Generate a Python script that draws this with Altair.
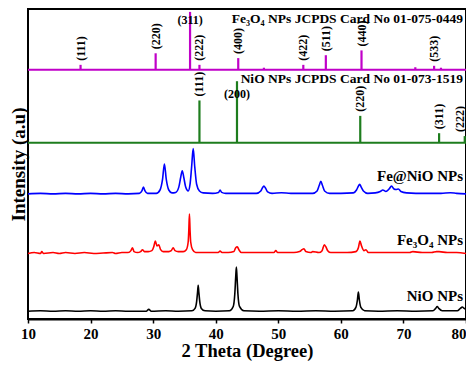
import altair as alt
import pandas as pd

# ---------------- data ----------------
# measured XRD profiles (2theta, stacked intensity in arbitrary units)
NIO_PTS = [(10, 8), (12, 8.5), (14, 8), (16, 8.5), (18, 8), (20, 8.5), (22, 8), (24, 8.5), (26, 8),
           (28.9, 8), (29.3, 10), (29.7, 8), (32, 8.5), (34, 8), (36.2, 8.5), (36.7, 11), (36.95, 18),
           (37.1, 28), (37.2, 35), (37.3, 28), (37.45, 18), (37.7, 11), (38.3, 8.5), (40, 8), (42.2, 8.5),
           (42.8, 13), (43.05, 26), (43.2, 44), (43.3, 54), (43.4, 44), (43.55, 26), (43.8, 13), (44.5, 8.5),
           (47, 8), (50, 8.5), (53, 8), (56, 8.5), (59, 8), (61.9, 8.5), (62.4, 12), (62.65, 20), (62.8, 28),
           (62.95, 20), (63.2, 12), (63.8, 8.5), (66, 8), (69, 8.5), (72, 8), (74.7, 8.5), (75.15, 11),
           (75.4, 13), (75.65, 11), (76.2, 8.5), (78.6, 8.5), (79.1, 11), (79.4, 12.5), (79.7, 11), (80, 10)]

FE3O4_PTS = [(10, 68), (11, 69), (12, 68), (12.2, 70), (12.5, 68), (14, 69), (15, 68), (16, 69), (17.5, 68),
             (19, 69), (20.5, 68), (22, 68.5), (23.5, 69), (24, 68), (25, 69), (26, 69), (26.45, 71), (26.7, 74),
             (26.95, 70), (27.5, 69), (28.0, 70), (28.3, 72), (28.6, 70), (29.2, 70), (29.8, 71), (30.1, 75),
             (30.35, 81), (30.6, 76), (30.9, 77), (31.2, 72), (31.6, 70), (32.5, 70), (32.9, 71), (33.2, 74),
             (33.5, 71), (34.0, 70), (34.8, 70), (35.3, 72), (35.6, 80), (35.7, 92), (35.8, 109), (35.9, 92),
             (36.0, 80), (36.3, 72), (36.8, 69), (38, 69), (39, 69), (40.4, 69), (40.7, 70.5), (41.0, 69),
             (42, 69), (42.9, 70), (43.2, 74), (43.45, 75), (43.7, 72), (44.1, 69), (45, 69), (46.5, 69),
             (48, 69), (49.3, 69), (49.6, 71), (49.9, 69), (51, 69), (52.5, 69), (53.4, 70), (53.8, 72),
             (54.1, 73), (54.4, 70), (55.2, 69), (55.5, 70), (56.5, 69), (57.0, 71), (57.35, 77), (57.6, 75),
             (57.9, 71), (58.4, 69), (59.5, 69), (61, 69), (62.4, 70), (62.8, 74), (63.05, 81), (63.3, 76),
             (63.7, 71), (64.0, 72), (64.4, 69), (65.5, 69), (67, 69), (69, 69), (71, 69), (71.5, 70), (73, 69),
             (74.5, 69), (75.3, 70), (75.7, 70), (77, 69), (78.5, 69), (80, 68)]

FENIO_PTS = [(10, 130), (12, 130.5), (14, 130), (16, 130.5), (18, 130), (20, 130.5), (22, 130), (24, 130.5),
             (26, 130), (27.8, 130.5), (28.2, 133), (28.45, 137), (28.7, 133), (29.1, 130.5), (30.5, 130.5),
             (31.1, 134), (31.5, 145), (31.8, 161), (32.1, 145), (32.5, 134), (33.0, 131), (33.6, 131.5),
             (34.1, 137), (34.4, 147), (34.65, 154), (34.9, 147), (35.2, 137), (35.6, 133), (35.9, 140),
             (36.15, 158), (36.4, 177), (36.65, 158), (36.95, 140), (37.4, 133), (38, 131), (39.5, 130.5),
             (40.45, 131.5), (40.7, 134), (40.95, 131.5), (41.6, 130.5), (44, 130.5), (46.5, 130.5), (47.2, 133),
             (47.45, 136), (47.7, 138), (47.95, 136), (48.3, 132), (49, 130.5), (50.5, 131.2), (52, 130.5),
             (54, 130.5), (55.5, 130.5), (56.2, 133), (56.55, 139), (56.8, 143), (57.05, 139), (57.4, 133),
             (58.2, 130.5), (60, 130.5), (62.0, 131), (62.5, 134), (62.8, 138), (63.0, 140), (63.25, 137),
             (63.6, 133), (64.3, 130.5), (65.5, 131), (66.3, 132.5), (66.7, 134), (67.2, 132.5), (67.7, 135),
             (68.1, 138), (68.5, 135), (68.8, 134.5), (69.2, 135), (69.6, 132.5), (70.5, 131), (72, 130.5),
             (74, 130.5), (76, 130.5), (77.5, 131.2), (78.5, 130.5), (80, 130)]

SERIES = ["NiO NPs", "Fe3O4 NPs", "Fe@NiO NPs"]
SERIES_COLORS = ["#000000", "#ff0000", "#0000ff"]

# JCPDS reference sticks
FE_CARD_BASE = 259
FE_CARD_X = [18.4, 30.4, 35.9, 37.4, 43.6, 54.0, 57.6, 63.3, 74.9, 47.7, 71.9, 76.0]
FE_CARD_TOP = [264, 276, 319, 264, 271, 264, 274, 279, 263, 261, 261.5, 261]
FE_CARD_HKL = ["(111)", "(220)", "(311)", "(222)", "(400)", "(422)", "(511)", "(440)", "(533)", "", "", ""]

NIO_CARD_BASE = 183
NIO_CARD_X = [37.4, 43.4, 63.1, 75.7, 79.8]
NIO_CARD_TOP = [227, 247, 211, 193, 190]
NIO_CARD_HKL = ["(111)", "(200)", "(220)", "(311)", "(222)"]

X_TICKS = [10, 15, 20, 25, 30, 35, 40, 45, 50, 55, 60, 65, 70, 75, 80]

CARDS = ["Fe card", "NiO card"]
CARD_COLORS = ["#c000c8", "#1e7d1e"]

CARD_TITLES = ["Fe\u2083O\u2084 NPs JCPDS Card No 01-075-0449", "NiO NPs JCPDS Card No 01-073-1519"]
SERIES_TITLES = ["Fe@NiO NPs", "Fe\u2083O\u2084 NPs", "NiO NPs"]

# ---------------- tables ----------------
rows = []
for name, pts in zip(SERIES, [NIO_PTS, FE3O4_PTS, FENIO_PTS]):
    for i, (x, y) in enumerate(pts):
        rows.append({"key": name, "x": x, "y": y, "order": i})
curves = pd.DataFrame(rows)

stick_rows = []
for card, base, xs, tops, hkls in [(CARDS[0], FE_CARD_BASE, FE_CARD_X, FE_CARD_TOP, FE_CARD_HKL),
                                    (CARDS[1], NIO_CARD_BASE, NIO_CARD_X, NIO_CARD_TOP, NIO_CARD_HKL)]:
    for x, t, h in zip(xs, tops, hkls):
        stick_rows.append({"key": card, "x": x, "base": base, "top": t, "hkl": h})
sticks = pd.DataFrame(stick_rows)
base_df = pd.DataFrame({"key": CARDS, "base": [FE_CARD_BASE, NIO_CARD_BASE],
                        "x0": [X_TICKS[0]] * 2, "x1": [X_TICKS[-1]] * 2})

W, H = 438, 310
FONT = "Liberation Serif"

xscale = alt.Scale(domain=[10, 80], nice=False, zero=False)
yscale = alt.Scale(domain=[0, 322], nice=False, zero=False)
color = alt.Color("key:N", scale=alt.Scale(domain=SERIES + CARDS, range=SERIES_COLORS + CARD_COLORS),
                  legend=None)

xaxis = alt.Axis(title="2 Theta (Degree)", values=X_TICKS,
                 labelExpr="datum.value % 10 == 0 ? datum.label : ''",
                 labelAlign=alt.condition("datum.value == 80", alt.value("right"), alt.value("center")),
                 grid=False, domainWidth=2, domainColor="black", tickColor="black",
                 tickWidth=1.5, tickSize=4, labelPadding=3, titlePadding=0,
                 labelFont=FONT, labelFontSize=15, labelFontWeight="bold", labelColor="black",
                 titleFont=FONT, titleFontSize=18.5, titleFontWeight="bold", titleColor="black")
yaxis = alt.Axis(title="Intensity (a.u)", labels=False, ticks=False, grid=False, domain=False,
                 titleFont=FONT, titleFontSize=19, titleFontWeight="bold", titleColor="black",
                 titlePadding=0)

lines = alt.Chart(curves).mark_line(strokeWidth=1.6, interpolate="monotone").encode(
    x=alt.X("x:Q", scale=xscale, axis=xaxis),
    y=alt.Y("y:Q", scale=yscale, axis=yaxis),
    color=color, order="order:Q", detail="key:N")

baselines = alt.Chart(base_df).mark_rule(strokeWidth=2).encode(
    x=alt.X("x0:Q", scale=xscale), x2="x1:Q",
    y=alt.Y("base:Q", scale=yscale), color=color)

stick_marks = alt.Chart(sticks).mark_rule(strokeWidth=2.2).encode(
    x=alt.X("x:Q", scale=xscale),
    y=alt.Y("base:Q", scale=yscale), y2="top:Q", color=color)

label_enc = dict(x=alt.X("x:Q", scale=xscale), y=alt.Y("top:Q", scale=yscale), text="hkl:N")
label_style = dict(font=FONT, fontSize=12, fontWeight="bold", color="black")

is_fe311 = "datum.key == 'Fe card' && datum.hkl == '(311)'"
is_ni200 = "datum.key == 'NiO card' && datum.hkl == '(200)'"
is_edge = "datum.x > 79"

rot_labels = alt.Chart(sticks).transform_filter(
    f"datum.hkl != '' && !({is_fe311}) && !({is_ni200}) && !({is_edge})").mark_text(
    angle=270, align="left", baseline="middle", dx=4, **label_style).encode(**label_enc)

edge_labels = alt.Chart(sticks).transform_filter(is_edge).mark_text(
    angle=270, align="left", baseline="middle", dx=4, dy=-4.5, **label_style).encode(**label_enc)

fe311_label = alt.Chart(sticks).transform_filter(is_fe311).mark_text(
    align="center", baseline="middle", dy=8, **label_style).encode(**label_enc)

ni200_label = alt.Chart(sticks).transform_filter(is_ni200).mark_text(
    align="center", baseline="middle", dy=13, **label_style).encode(**label_enc)

# annotation text anchors, in the intensity units of the y scale
CARD_TITLE_LEVEL = [312, 249]
SERIES_TITLE_LEVEL = [149, 82, 24]
annots = []
for t, lv in zip(CARD_TITLES, CARD_TITLE_LEVEL):
    annots.append(alt.Chart(pd.DataFrame({"t": [t]})).mark_text(
        align="right", baseline="middle", font=FONT, fontSize=13.5, fontWeight="bold", color="black").encode(
        x=alt.value(W - 3), y=alt.Y(datum=lv, scale=yscale), text="t:N"))
for t, lv in zip(SERIES_TITLES, SERIES_TITLE_LEVEL):
    annots.append(alt.Chart(pd.DataFrame({"t": [t]})).mark_text(
        align="right", baseline="middle", font=FONT, fontSize=15, fontWeight="bold", color="black").encode(
        x=alt.value(W - 3), y=alt.Y(datum=lv, scale=yscale), text="t:N"))

chart = alt.layer(lines, baselines, stick_marks, rot_labels, edge_labels, fe311_label, ni200_label,
                  *annots).properties(
    width=W, height=H,
    background="white",
    autosize=alt.AutoSizeParams(type="none"),
    padding={"left": 20, "top": 1, "right": 0, "bottom": 43},
).configure_view(stroke="black", strokeWidth=2)

chart.save("out.html", embed_options={"renderer": "svg", "actions": False})
